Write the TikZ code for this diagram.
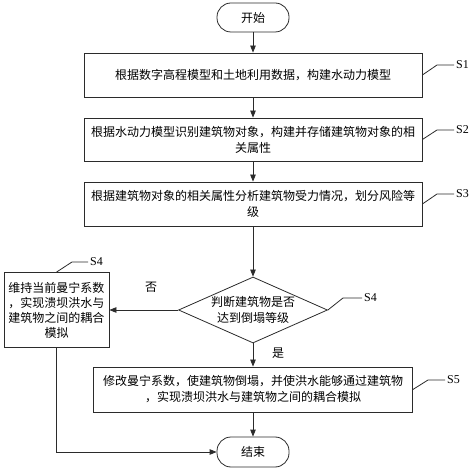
\documentclass[tikz,border=0pt]{standalone}
\usepackage{fontspec}
\setmainfont{Liberation Serif}
\newfontfamily\cjk{Noto Sans CJK SC}
\usetikzlibrary{arrows.meta,shapes.geometric}
\definecolor{lc}{HTML}{2B2B2B}
\tikzset{
  base/.style={draw=lc, line width=0.8pt, text=black, align=center, inner sep=0pt,
    font=\cjk\fontsize{12}{16}\selectfont},
  procbox/.style={base, rectangle},
  termbox/.style={base, rectangle, rounded corners=14pt, minimum width=72pt},
  decbox/.style={base, diamond, aspect=2.26, minimum width=149pt, minimum height=66pt},
  txt/.style={align=center, inner sep=0pt, font=\cjk\fontsize{12}{16}\selectfont},
  steplabel/.style={anchor=west, inner sep=2pt, font=\fontsize{12}{14}\selectfont},
  flow/.style={draw=lc, line width=0.8pt, -{Triangle[length=7pt,width=5.5pt]}},
  leader/.style={draw=lc, line width=0.8pt},
}
\begin{document}
\begin{tikzpicture}[x=1pt,y=-1pt]
\useasboundingbox (0,0) rectangle (474,470);
% nodes
\node[termbox, minimum height=29pt] (start) at (253,17.5) {开始};
\node[procbox, minimum width=338pt, minimum height=44pt] (s1) at (253,75)
  {根据数字高程模型和土地利用数据，构建水动力模型};
\node[procbox, minimum width=338pt, minimum height=43pt] (s2) at (253,139.5)
  {根据水动力模型识别建筑物对象，构建并存储建筑物对象的相\\关属性};
\node[procbox, minimum width=338pt, minimum height=44pt] (s3) at (253,204)
  {根据建筑物对象的相关属性分析建筑物受力情况，划分风险等\\级};
\node[decbox] (dia) at (253,310) {};
\node[txt] (diat) at (253,309.5) {判断建筑物是否\\达到倒塌等级};
\node[procbox, minimum width=105pt, minimum height=75pt, font=\cjk\fontsize{12}{15}\selectfont] (keep) at (56.5,310)
  {维持当前曼宁系数\\，实现溃坝洪水与\\建筑物之间的耦合\\模拟};
\node[procbox, minimum width=319pt, minimum height=45pt] (s5) at (253,389.5)
  {修改曼宁系数，使建筑物倒塌，并使洪水能够通过建筑物\\，实现溃坝洪水与建筑物之间的耦合模拟};
\node[termbox, minimum height=30pt] (end) at (253,452) {结束};
\node[txt] (no) at (151,287) {否};
\node[txt] (yes) at (278,353) {是};
% flow
\draw[flow] (start) -- (s1);
\draw[flow] (s1) -- (s2);
\draw[flow] (s2) -- (s3);
\draw[flow] (s3) -- (dia.north);
\draw[flow] (dia.south) -- (s5);
\draw[flow] (dia.west) -- (keep.east);
\draw[flow] (s5) -- (end);
\draw[flow] (keep.south) |- (end.west);
% step labels
\node[steplabel] (l1) at (454,65) {S1};
\node[steplabel] (l2) at (454,130) {S2};
\node[steplabel] (l3) at (454,194) {S3};
\node[steplabel] (l4r) at (362,298) {S4};
\node[steplabel] (l4l) at (88,262) {S4};
\node[steplabel] (l5) at (445,380) {S5};
\coordinate (k1) at (437,65);
\coordinate (k2) at (437,130);
\coordinate (k3) at (437,194);
\coordinate (k4r) at (343,298);
\coordinate (k4l) at (72,262);
\coordinate (k5) at (428,380);
\draw[leader] (s1.east) -- (k1) -- (l1.west);
\draw[leader] (s2.east) -- (k2) -- (l2.west);
\draw[leader] (s3.east) -- (k3) -- (l3.west);
\draw[leader] (dia.east) -- (k4r) -- (l4r.west);
\draw[leader] (keep.north) -- (k4l) -- (l4l.west);
\draw[leader] (s5.east) -- (k5) -- (l5.west);
\end{tikzpicture}
\end{document}
